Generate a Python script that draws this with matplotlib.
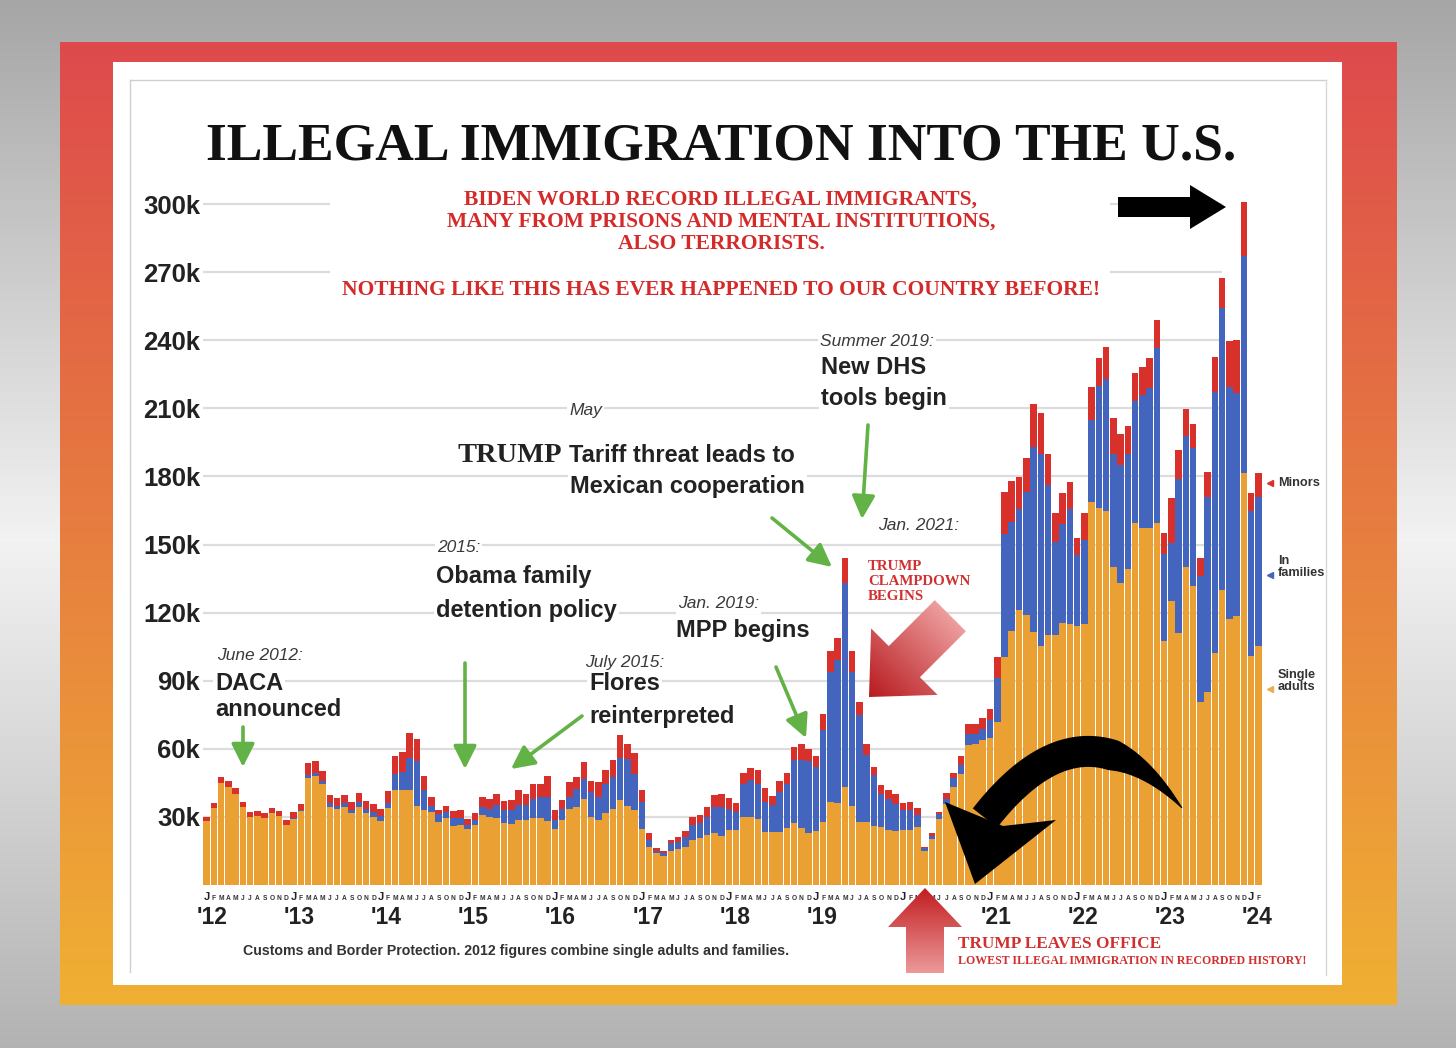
import numpy as np
import matplotlib
matplotlib.use('Agg')
import matplotlib.pyplot as plt
from matplotlib.patches import Polygon, Rectangle
from matplotlib import transforms

# Southwest border apprehensions by month, thousands, Jan 2012 - Feb 2024
single_adults = [
    28.2, 34.0, 45.0, 43.3, 40.1, 34.2, 30.0, 30.5, 29.5, 31.8, 30.3, 26.5,   # 2012
    29.0, 32.5, 47.1, 48.0, 44.5, 34.5, 33.5, 34.5, 31.5, 34.5, 31.5, 30.0,   # 2013
    28.0, 34.0, 42.0, 42.0, 42.0, 35.0, 33.0, 32.0, 27.8, 29.4, 26.0, 26.3,   # 2014
    24.6, 26.3, 30.8, 29.8, 29.4, 27.4, 26.8, 28.5, 28.7, 29.4, 29.4, 28.0,   # 2015
    24.6, 28.5, 33.4, 34.4, 37.8, 30.0, 28.5, 31.6, 33.7, 37.4, 35.0, 33.0,   # 2016
    24.6, 16.8, 13.9, 12.9, 15.0, 15.7, 16.8, 19.8, 20.5, 22.0, 23.0, 21.4,   # 2017
    24.2, 24.2, 30.0, 30.0, 29.0, 23.5, 23.4, 23.4, 25.0, 27.4, 25.0, 23.0,   # 2018
    24.0, 27.8, 36.6, 36.0, 43.0, 35.0, 27.8, 27.8, 25.8, 25.6, 24.4, 24.0,   # 2019
    24.2, 24.2, 25.6, 15.0, 20.2, 29.0, 35.6, 43.2, 49.0, 61.5, 62.2, 63.7,   # 2020
    64.6, 72.0, 100.6, 112.0, 121.0, 119.0, 111.6, 105.5, 110.0, 110.0, 115.5, 115.0,  # 2021
    114.0, 115.0, 168.7, 166.0, 164.7, 140.0, 133.0, 139.0, 159.6, 157.4, 157.4, 159.6,  # 2022
    107.6, 125.0, 111.0, 140.0, 131.8, 80.5, 85.0, 102.0, 130.0, 117.0, 118.6, 181.5,  # 2023
    101.0, 105.4,                                                             # 2024
]
families = [
    0, 0, 0, 0, 0, 0, 0, 0, 0, 0, 0, 0,
    0.5, 0.5, 1.5, 1.5, 1.5, 1.5, 1.5, 1.5, 1.5, 2.0, 2.0, 2.0,
    2.5, 2.0, 7.0, 8.0, 14.0, 19.5, 8.7, 2.8, 3.4, 2.8, 3.3, 3.0,
    1.7, 2.2, 3.6, 3.9, 5.7, 5.5, 6.1, 6.6, 6.4, 8.7, 9.4, 10.8,
    3.9, 5.2, 5.4, 8.0, 9.0, 11.0, 10.3, 13.1, 13.9, 18.6, 20.7, 16.0,
    12.0, 3.2, 0.9, 1.1, 3.3, 3.3, 4.4, 6.6, 6.6, 8.0, 11.4, 13.0,
    9.5, 8.0, 14.7, 16.1, 15.7, 13.1, 11.7, 17.6, 19.7, 27.5, 30.2, 31.6,
    28.0, 40.6, 57.1, 63.0, 90.0, 58.7, 47.3, 29.3, 22.5, 14.7, 13.7, 11.9,
    8.8, 8.8, 5.1, 1.1, 1.3, 2.2, 2.5, 4.1, 3.7, 5.1, 4.4, 5.1,
    7.9, 19.0, 54.0, 48.0, 44.6, 54.0, 81.4, 84.5, 66.0, 41.0, 43.5, 50.6,
    31.5, 37.0, 36.3, 54.0, 58.3, 50.0, 52.0, 50.7, 53.8, 58.6, 61.6, 76.8,
    38.4, 25.5, 67.7, 57.7, 60.8, 55.5, 86.0, 115.4, 124.0, 102.6, 98.1, 95.5,
    63.7, 65.6,
]
minors = [
    1.8, 2.0, 2.5, 2.5, 2.5, 2.2, 2.0, 2.0, 2.0, 2.2, 2.2, 2.0,
    2.5, 2.5, 5.0, 5.0, 4.0, 3.5, 3.5, 3.5, 3.5, 4.0, 3.5, 3.5,
    3.0, 5.5, 8.0, 8.5, 11.0, 10.0, 6.3, 4.0, 1.8, 2.8, 3.3, 3.6,
    2.7, 3.1, 4.2, 4.1, 4.9, 4.1, 4.7, 6.6, 5.1, 6.6, 5.9, 9.2,
    4.5, 3.7, 6.6, 5.2, 7.3, 5.0, 6.6, 6.1, 7.6, 10.0, 6.3, 9.0,
    5.1, 3.0, 1.4, 1.0, 1.5, 2.2, 2.8, 3.6, 3.6, 4.4, 5.4, 5.6,
    4.5, 3.8, 4.6, 5.3, 6.1, 6.0, 3.9, 5.0, 4.6, 6.1, 6.8, 5.1,
    5.0, 7.1, 9.3, 10.0, 11.0, 9.3, 5.7, 4.9, 3.7, 3.7, 3.9, 4.1,
    3.0, 3.5, 3.3, 0.7, 1.3, 1.0, 2.3, 2.0, 4.0, 4.4, 4.4, 4.6,
    5.2, 9.5, 18.4, 18.0, 14.0, 15.0, 19.0, 18.0, 14.0, 13.0, 13.6, 11.8,
    7.5, 12.0, 14.6, 12.0, 14.0, 15.7, 13.6, 12.3, 12.3, 12.4, 13.0, 12.6,
    9.0, 20.0, 12.8, 11.8, 10.4, 8.0, 11.0, 15.4, 13.5, 20.1, 23.3, 24.0,
    8.0, 10.5,
]
years = ["'12", "'13", "'14", "'15", "'16", "'17", "'18", "'19", "", "'21", "'22", "'23", "'24"]
month_letters = "JFMAMJJASOND"
y_ticks = [30, 60, 90, 120, 150, 180, 210, 240, 270, 300]

ORANGE = '#eba033'
BLUE = '#4465bd'
RED = '#d8312c'
GREEN = '#62b246'
DARK = '#222222'
SANS = 'Liberation Sans'
SERIF = 'Liberation Serif'

W, H = 1456, 1048
fig = plt.figure(figsize=(W / 100, H / 100), dpi=100)

# ---- background layer (pixel coordinates) ----
bg = fig.add_axes([0, 0, 1, 1])
bg.set_zorder(0)
bg.axis('off')

yy = np.arange(H)
g = np.interp(yy, [0, 540, H], [0.65, 0.95, 0.70])
gray = np.dstack([np.tile(g[:, None], (1, 4))] * 3)
bg.imshow(gray, extent=(0, W, H, 0), aspect='auto', interpolation='bilinear')

fy = np.linspace(0, 1, 200)[:, None]
c_top = np.array([0.87, 0.29, 0.30])
c_bot = np.array([0.94, 0.69, 0.20])
frame = c_top[None, None, :] * (1 - fy[:, :, None]) + c_bot[None, None, :] * fy[:, :, None]
frame = np.repeat(frame, 4, axis=1)
bg.imshow(frame, extent=(60, 1397, 1005, 42), aspect='auto', interpolation='bilinear')
bg.add_patch(Rectangle((113, 62), 1229, 923, fc='white', ec='none'))
bg.plot([130, 1326], [80, 80], color='#cfcfcf', lw=1)
bg.plot([130, 130], [80, 972], color='#cfcfcf', lw=1)
bg.plot([1326, 1326], [80, 975], color='#d8d8d8', lw=1)
bg.set_xlim(0, W)
bg.set_ylim(H, 0)

# ---- chart ----
n = len(single_adults)
idx = np.arange(n)
sa = np.array(single_adults)
fa = np.array(families)
mi = np.array(minors)

x0, x1, base_px, top_px = 203, 1262, 885, 180
ppk = 681 / 300.0
ax = fig.add_axes([x0 / W, 1 - base_px / H, (x1 - x0) / W, (base_px - top_px) / H])
ax.set_zorder(1)
ax.patch.set_alpha(0)
for s in ax.spines.values():
    s.set_visible(False)
ax.set_xlim(-0.5, n - 0.5)
ax.set_ylim(0, (base_px - top_px) / ppk)
ax.hlines(y_ticks, -0.5, 140, color='#dcdcdc', lw=1.6, zorder=0)
bw = 0.9
ax.bar(idx, sa, width=bw, color=ORANGE, zorder=2)
ax.bar(idx, fa, bottom=sa, width=bw, color=BLUE, zorder=2)
ax.bar(idx, mi, bottom=sa + fa, width=bw, color=RED, zorder=2)
ax.set_xticks([])
ax.set_yticks(y_ticks)
ax.set_yticklabels([f'{v}k' for v in y_ticks], fontfamily=SANS, fontweight='bold',
                   fontsize=18.5, color=DARK)
ax.tick_params(axis='y', length=0, pad=2)

# ---- overlay layer (pixel coordinates) ----
top = fig.add_axes([0, 0, 1, 1])
top.set_zorder(2)
top.patch.set_alpha(0)
top.axis('off')

tr = transforms.blended_transform_factory(ax.transData, top.transData)
for i in range(n):
    m = i % 12
    if m == 0:
        top.text(i, 897, 'J', transform=tr, ha='center', va='center', fontsize=8,
                 fontweight='bold', color=DARK, family=SANS)
    else:
        top.text(i, 898, month_letters[m], transform=tr, ha='center', va='center',
                 fontsize=4.8, fontweight='bold', color='#333333', family=SANS)
for k, lab in enumerate(years):
    if lab:
        top.text(k * 12 + 0.8, 917, lab, transform=tr, ha='center', va='center',
                 fontsize=16.5, fontweight='bold', color=DARK, family=SANS)


def grad_poly(verts, c0, c1, p0, p1, z=5):
    verts = np.array(verts, dtype=float)
    xmn, ymn = verts.min(0)
    xmx, ymx = verts.max(0)
    patch = Polygon(verts, closed=True, fc='none', ec='none')
    top.add_patch(patch)
    gx, gy = np.meshgrid(np.linspace(xmn, xmx, 120), np.linspace(ymn, ymx, 120))
    d = np.array(p1, float) - np.array(p0, float)
    t = ((gx - p0[0]) * d[0] + (gy - p0[1]) * d[1]) / (d @ d)
    t = np.clip(t, 0, 1)[:, :, None]
    img = np.array(c0)[None, None, :] * (1 - t) + np.array(c1)[None, None, :] * t
    im = top.imshow(img, extent=(xmn, xmx, ymx, ymn), aspect='auto',
                    interpolation='bilinear', zorder=z)
    im.set_clip_path(patch)


# white block behind headline text
top.add_patch(Rectangle((330, 186), 780, 116, fc='white', ec='none', zorder=1))

top.text(721, 146, 'ILLEGAL IMMIGRATION INTO THE U.S.', ha='center', va='center',
         fontsize=38.5, fontweight='bold', family=SERIF, color='#111111')
red_lines = ['BIDEN WORLD RECORD ILLEGAL IMMIGRANTS,',
             'MANY FROM PRISONS AND MENTAL INSTITUTIONS,',
             'ALSO TERRORISTS.']
for j, line in enumerate(red_lines):
    top.text(721, 200 + 22 * j, line, ha='center', va='center', fontsize=15.5,
             fontweight='bold', family=SERIF, color='#d42a2a', zorder=3)
top.text(721, 290, 'NOTHING LIKE THIS HAS EVER HAPPENED TO OUR COUNTRY BEFORE!',
         ha='center', va='center', fontsize=15.5, fontweight='bold', family=SERIF,
         color='#d42a2a', zorder=3)

box = dict(fc='white', ec='none', pad=1.5)


def italic(x, y, s):
    top.text(x, y, s, ha='left', va='center', fontsize=12.5, style='italic',
             family=SANS, color='#3a3a3a', bbox=box, zorder=3)


def bold(x, y, s):
    top.text(x, y, s, ha='left', va='center', fontsize=17, fontweight='bold',
             family=SANS, color=DARK, bbox=box, zorder=3)


italic(217, 656, 'June 2012:')
bold(215, 684, 'DACA')
bold(215, 710, 'announced')
italic(437, 548, '2015:')
bold(436, 577, 'Obama family')
bold(436, 610, 'detention policy')
italic(569, 410, 'May')
top.text(458, 455, 'TRUMP', ha='left', va='center', fontsize=20.5, fontweight='bold',
         family=SERIF, color=DARK, bbox=box, zorder=3)
bold(569, 455, 'Tariff threat leads to')
bold(570, 487, 'Mexican cooperation')
italic(585, 662, 'July 2015:')
bold(589, 684, 'Flores')
bold(589, 716, 'reinterpreted')
italic(678, 604, 'Jan. 2019:')
bold(676, 630, 'MPP begins')
italic(820, 342, 'Summer 2019:')
bold(821, 367, 'New DHS')
bold(821, 399, 'tools begin')
italic(878, 525, 'Jan. 2021:')
for j, line in enumerate(['TRUMP', 'CLAMPDOWN', 'BEGINS']):
    top.text(868, 566 + 15.5 * j, line, ha='left', va='center', fontsize=10.7,
             fontweight='bold', family=SERIF, color='#d03030', zorder=3)

# green arrows
green_arrows = [((243, 727), (243, 767)), ((465, 663), (465, 769)),
                ((582, 716), (511, 769)), ((776, 667), (806, 738)),
                ((772, 518), (832, 567)), ((868, 425), (862, 519))]
for (xa, ya), (xb, yb) in green_arrows:
    top.annotate('', xy=(xb, yb), xytext=(xa, ya),
                 arrowprops=dict(arrowstyle='-|>,head_width=0.35,head_length=0.7',
                                 lw=2.6, color=GREEN, mutation_scale=20,
                                 shrinkA=0, shrinkB=0), zorder=4)

# red diagonal arrow (clampdown)
tip = np.array([869.0, 697.0])
uu = np.array([1.0, -1.0]) / np.sqrt(2)
nn = np.array([1.0, 1.0]) / np.sqrt(2)
shape_un = [(0, 0), (50, -47), (50, -22), (115, -22), (115, 22), (50, 22), (50, 47)]
diag = [tip + a * uu + b * nn for a, b in shape_un]
grad_poly(diag, (0.72, 0.10, 0.12), (0.93, 0.62, 0.62), tip, tip + 115 * uu)

# red up arrow (leaves office)
up = [(925, 888), (962, 927), (944, 927), (944, 973), (906, 973), (906, 927), (888, 927)]
grad_poly(up, (0.76, 0.13, 0.14), (0.93, 0.60, 0.60), (925, 890), (925, 973))

top.text(958, 944, 'TRUMP LEAVES OFFICE', ha='left', va='center', fontsize=12.4,
         fontweight='bold', family=SERIF, color='#d03030')
top.text(958, 961, 'LOWEST ILLEGAL IMMIGRATION IN RECORDED HISTORY!', ha='left',
         va='center', fontsize=8.6, fontweight='bold', family=SERIF, color='#d03030')
top.text(243, 951, 'Customs and Border Protection. 2012 figures combine single adults and families.',
         ha='left', va='center', fontsize=10.2, fontweight='bold', family=SANS, color='#333333')

# black right arrow
top.add_patch(Polygon([(1118, 197), (1190, 197), (1190, 185), (1226, 207), (1190, 229),
                       (1190, 217), (1118, 217)], closed=True, fc='black', ec='none', zorder=5))

# black curved arrow
P0, P1, P2 = np.array([1182.0, 808.0]), np.array([1085.0, 690.0]), np.array([985.0, 818.0])
ts = np.linspace(0, 1, 80)
pts = ((1 - ts) ** 2)[:, None] * P0 + (2 * ts * (1 - ts))[:, None] * P1 + (ts ** 2)[:, None] * P2
der = (2 * (1 - ts))[:, None] * (P1 - P0) + (2 * ts)[:, None] * (P2 - P1)
der = der / np.linalg.norm(der, axis=1)[:, None]
nrm = np.column_stack([-der[:, 1], der[:, 0]])
wd = 15 * np.minimum(1, ts / 0.35) + 0.5
left = pts + nrm * wd[:, None]
right = pts - nrm * wd[:, None]
top.add_patch(Polygon(np.vstack([left, right[::-1]]), closed=True, fc='black', ec='none', zorder=5))
top.add_patch(Polygon([(945, 802), (1003, 826), (1056, 820), (975, 884)], closed=True,
                      fc='black', ec='none', zorder=5))

# legend at right
legend_items = [('Minors', RED, 483), ('In\nfamilies', BLUE, 567), ('Single\nadults', '#e8b050', 681)]
for lab, col, yv in legend_items:
    top.plot(1270, yv + (8 if '\n' in lab else 0), marker='<', ms=5, color=col, ls='none')
    top.text(1278, yv, lab, ha='left', va='center', fontsize=9.2, fontweight='bold',
             family=SANS, color='#333333', linespacing=1.1)

top.set_xlim(0, W)
top.set_ylim(H, 0)

fig.savefig('out.png', dpi=100)
